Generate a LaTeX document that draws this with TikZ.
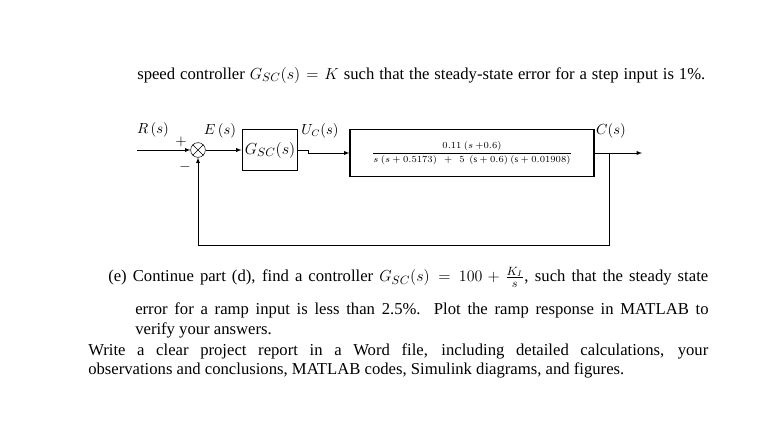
\documentclass[tikz,border=0pt]{standalone}
\usepackage{fontspec}
\setmainfont{Liberation Serif}
\usetikzlibrary{positioning}
\newcommand{\fullline}[1]{{\setlength\parfillskip{0pt}#1\par}}
\begin{document}
\begin{tikzpicture}[x=0.75pt,y=-0.75pt,font=\fontsize{12.5}{15}\selectfont,
  blk/.style={draw,thick,inner sep=2pt},
  lbl/.style={font=\fontsize{10.5}{12}\selectfont},
  txt/.style={anchor=west,align=justify,inner sep=0pt},
  sig/.style={->,>=latex}]
\useasboundingbox (0,0) rectangle (768,439);

% problem text
\node[txt,text width=426pt] (top) at (137,75) {\fullline{speed controller $G_{SC}(s)=K$ such that the steady-state error for a step input is 1\%.}};

% block diagram
\node[draw,circle,inner sep=0pt,minimum size=11pt] (sum) at (198,150) {};
\draw (sum.north west) -- (sum.south east) (sum.north east) -- (sum.south west);
\coordinate (in) at (137,150);
\node[blk,minimum width=37.5pt,minimum height=31pt] (gsc) at (270,150) {$G_{SC}(s)$};
\node[blk,minimum width=183pt,minimum height=35pt,font=\fontsize{7}{8}\selectfont] (plant) at (472,153)
  {$\displaystyle\frac{0.11\ (s\ {+}0.6)}{s\ (s+0.5173)\ \ +\ \ 5\ \ (\mathrm{s}+0.6)\ (\mathrm{s}+0.01908)}$};
\coordinate (out) at (642,153);
\coordinate (br) at (609,153);
\coordinate (bot) at (609,245);
\coordinate (botl) at (198,245);

\draw[sig] (in) -- (sum);
\draw[sig] (sum) -- (gsc);
\draw[sig] (gsc.east) -- ++(10,0) |- (plant.west);
\draw[sig] (plant.east) -- (out);
\draw[sig] (br) -- (bot) -- (botl) -- (sum.south);

\node[lbl] at (153,130) {$R\,(s)$};
\node[lbl] at (181,142) {$+$};
\node[lbl] at (220,131) {$E\,(s)$};
\node[lbl] at (185,167) {$-$};
\node[lbl] at (320,131) {$U_C(s)$};
\node[lbl] at (611,131) {$C(s)$};

% remaining text
\node[txt,text width=450pt] (pe) at (108,277) {\fullline{(e) Continue part (d), find a controller $G_{SC}(s)=100+\frac{K_I}{s}$, such that the steady state}};
\node[txt,text width=430pt] (pe2) at (135,310) {\fullline{error for a ramp input is less than 2.5\%. Plot the ramp response in MATLAB to}};
\node[txt] (pe3) at (135,330) {verify your answers.};
\node[txt,text width=465pt] (rep) at (88,351) {\fullline{Write a clear project report in a Word file, including detailed calculations, your}};
\node[txt] (rep2) at (88,370) {observations and conclusions, MATLAB codes, Simulink diagrams, and figures.};
\end{tikzpicture}
\end{document}
